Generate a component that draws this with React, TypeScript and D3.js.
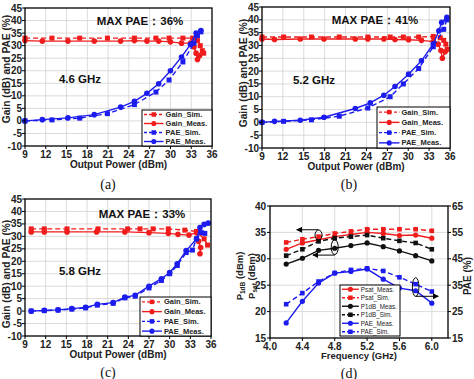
import React from 'react';
import * as d3 from 'd3';

type P = [number, number];

// ---------- shared ticks ----------
const powerTicks = [9, 12, 15, 18, 21, 24, 27, 30, 33, 36];
const gainPaeTicks = [-10, -5, 0, 5, 10, 15, 20, 25, 30, 35, 40, 45];

// ---------- panel (a) 4.6 GHz ----------
const gainSimA: P[] = [[9, 33], [12.9, 33], [16.9, 33], [20.9, 33], [24.8, 33], [27.9, 33], [29.8, 33], [31.8, 33], [33.2, 33], [33.9, 32], [34.3, 30], [34.6, 28], [34.8, 27]];
const gainMeasA: P[] = [[9, 32], [11.5, 31.8], [15.2, 31.8], [19, 31.8], [22.8, 31.8], [24.8, 32], [26.6, 31.8], [28.3, 31.8], [30, 31.5], [31.6, 31], [32.9, 31], [33.4, 29.5], [33.7, 27], [33.9, 24.5], [34.2, 26]];
const paeSimA: P[] = [[9, 0], [12.9, 0.4], [16.9, 1.1], [20.9, 2.9], [24.8, 6.5], [27.9, 11.5], [29.8, 16.3], [31.8, 23.5], [33.4, 31], [33.9, 34], [34.4, 35.5]];
const paeMeasA: P[] = [[9, 0], [11.5, 0.5], [15.2, 1.2], [19, 2.5], [22.8, 5.5], [24.8, 7.8], [26.6, 11], [28.3, 14.8], [30, 20], [31.6, 25.5], [32.9, 30.5], [33.7, 35], [34.4, 36]];

// ---------- panel (b) 5.2 GHz ----------
const gainSimB: P[] = [[9, 33.3], [12.1, 33.3], [16.1, 33.3], [20.1, 33.3], [24.2, 33.3], [27.4, 33.3], [29.3, 33.3], [31.5, 33.3], [33.6, 33.5], [34.6, 33], [35.1, 32], [35.4, 30.5], [35.6, 28.5]];
const gainMeasB: P[] = [[9, 32.5], [10.8, 32.3], [14.5, 32.5], [17.9, 32.5], [22.4, 32.5], [24.2, 32.5], [26.5, 32.5], [28.1, 32.3], [30.05, 32.2], [31.9, 32], [33.6, 31.5], [34.3, 30.5], [34.7, 28], [34.9, 25], [35.3, 27.5]];
const paeSimB: P[] = [[9, 0], [12.1, 0.4], [16.1, 1], [20.1, 2.4], [24.2, 5.6], [27.4, 10], [29.3, 15], [31.5, 21], [33.6, 29.5], [35.1, 36.3], [35.55, 40]];
const paeMeasB: P[] = [[9, 0], [10.8, 0.4], [14.5, 0.8], [17.9, 2], [22.4, 5.4], [24.55, 7.6], [26.5, 10.6], [28.1, 14], [30.05, 18.8], [31.9, 24], [33.6, 30.6], [34.4, 35.7], [34.8, 39], [35.55, 41]];

// ---------- panel (c) 5.8 GHz ----------
const gainSimC: P[] = [[9.9, 33], [11.8, 33], [15.1, 33], [19.6, 33], [23.9, 33], [25.7, 33], [27.6, 33], [29.8, 33], [32.2, 32.5], [33.9, 32], [35.0, 29], [35.5, 26.5]];
const gainMeasC: P[] = [[9.9, 31.8], [11.8, 31.8], [15.1, 31.8], [19.4, 31.8], [23.5, 31.8], [27.0, 31.5], [29.8, 31.2], [31.2, 30.8], [32.8, 30.5], [33.9, 31.5], [34.2, 28], [34.5, 25.5], [34.4, 23]];
const paeSimC: P[] = [[9.9, 0], [11.8, 0.2], [13.8, 0.4], [15.8, 0.8], [17.8, 1.3], [19.5, 2.4], [21.8, 3.1], [23.5, 5.3], [25, 6], [27, 9.3], [28.8, 12.3], [30, 15], [31.1, 18.3], [32.4, 23.5], [33.3, 24.5], [33.9, 29], [34.6, 31.5], [35.1, 31.2]];
const paeMeasC: P[] = [[9.9, 0], [11.8, 0.3], [13.8, 0.5], [15.8, 1], [17.8, 1.5], [19.5, 2.7], [21.8, 3.4], [23.5, 5.6], [25, 6.3], [27, 10], [28.8, 13], [30, 15.5], [31.1, 19], [32.4, 24.3], [33.9, 29], [34.4, 33.5], [35.0, 34.8], [35.6, 35.3]];

// ---------- panel (d) vs frequency ----------
const freqs = [4.2, 4.4, 4.6, 4.8, 5.0, 5.2, 5.4, 5.6, 5.8, 6.0];
const psatMeas = [31.8, 33.0, 33.6, 34.2, 34.6, 35.0, 34.8, 34.4, 34.5, 33.9];
const psatSim = [33.1, 33.7, 34.2, 34.8, 35.2, 35.6, 35.6, 35.6, 35.6, 35.3];
const p1dbMeas = [29.0, 30.1, 31.6, 32.0, 32.5, 33.0, 32.3, 31.5, 30.6, 29.6];
const p1dbSim = [30.6, 31.8, 33.3, 33.9, 34.2, 34.5, 33.9, 33.4, 33.0, 31.8];
const paeMeasD = [20.7, 28.9, 35.8, 39.6, 40.2, 41.1, 37.3, 33.9, 32.9, 28.2];
const paeSimD = [27.8, 32.0, 36.4, 39.6, 40.8, 41.4, 40.4, 38.0, 35.4, 32.6];
const freqTicks = [4.0, 4.4, 4.8, 5.2, 5.6, 6.0];
const powerDTicks = [15, 20, 25, 30, 35, 40];
const paeDTicks = [15, 25, 35, 45, 55, 65];

const legendNames = ['Gain_Sim.', 'Gain_Meas.', 'PAE_Sim.', 'PAE_Meas.'];
const legendNamesD = ['Psat_Meas.', 'Psat_Sim.', 'P1dB_Meas.', 'P1dB_Sim.', 'PAE_Meas.', 'PAE_Sim.'];

const RED = '#f01c1c';
const BLUE = '#1c1cee';
const BLACK = '#111';
const GRID = '#d2d2d2';
const F = "'Liberation Sans', Arial, Helvetica, sans-serif";
const SERIF = "'Liberation Serif', 'Times New Roman', serif";

type Series = { name: string; data: P[]; color: string; dashed: boolean; shape: 'square' | 'circle'; right?: boolean };

function Marker({ cx, cy, shape, color, s = 5 }: { cx: number; cy: number; shape: string; color: string; s?: number }) {
  if (shape === 'square') return <rect x={cx - s / 2} y={cy - s / 2} width={s} height={s} fill={color} />;
  return <circle cx={cx} cy={cy} r={s / 2 + 0.3} fill={color} />;
}

function SeriesMarks({ s, x, y, ms }: { s: Series; x: (v: number) => number; y: (v: number) => number; ms: number }) {
  const line = d3.line<P>().x(d => x(d[0])).y(d => y(d[1]));
  return (
    <g>
      <path d={line(s.data) || ''} fill="none" stroke={s.color} strokeWidth={1.4} strokeDasharray={s.dashed ? '5,3' : undefined} />
      {s.data.map((d, i) => <Marker key={i} cx={x(d[0])} cy={y(d[1])} shape={s.shape} color={s.color} s={ms} />)}
    </g>
  );
}

function Legend({ box, series, fs, weight }: { box: { x0: number; x1: number; y0: number; y1: number }; series: Series[]; fs: number; weight: string | number }) {
  const n = series.length;
  const h = (box.y1 - box.y0) / n;
  const sw = Math.min(22, (box.x1 - box.x0) * 0.28);
  return (
    <g>
      <rect x={box.x0} y={box.y0} width={box.x1 - box.x0} height={box.y1 - box.y0} fill="#fff" stroke="#000" strokeWidth={1} />
      {series.map((s, i) => {
        const cy = box.y0 + h * (i + 0.5);
        const lx0 = box.x0 + 2;
        const lx1 = lx0 + sw;
        return (
          <g key={i}>
            <line x1={lx0} x2={lx1} y1={cy} y2={cy} stroke={s.color} strokeWidth={1.4} strokeDasharray={s.dashed ? '3,2' : undefined} />
            <Marker cx={(lx0 + lx1) / 2} cy={cy} shape={s.shape} color={s.color} s={4.5} />
            <text x={lx1 + 2} y={cy} dominantBaseline="central" fontSize={fs} fontWeight={weight} fontFamily={F} fill="#222">{s.name}</text>
          </g>
        );
      })}
    </g>
  );
}

type PanelProps = {
  box: { x0: number; x1: number; y0: number; y1: number };
  gainSim: P[]; gainMeas: P[]; paeSim: P[]; paeMeas: P[];
  maxText: string; freqText: string;
  maxPos: [number, number]; freqPos: [number, number];
  legendBox: { x0: number; x1: number; y0: number; y1: number };
  caption: string; captionPos: [number, number]; ylabelY: number;
};

function PowerPanel(p: PanelProps) {
  const { box } = p;
  const x = d3.scaleLinear().domain([9, 36]).range([box.x0, box.x1]);
  const y = d3.scaleLinear().domain([-10, 45]).range([box.y1, box.y0]);
  const series: Series[] = [
    { name: legendNames[0], data: p.gainSim, color: RED, dashed: true, shape: 'square' },
    { name: legendNames[1], data: p.gainMeas, color: RED, dashed: false, shape: 'circle' },
    { name: legendNames[2], data: p.paeSim, color: BLUE, dashed: true, shape: 'square' },
    { name: legendNames[3], data: p.paeMeas, color: BLUE, dashed: false, shape: 'circle' },
  ];
  return (
    <g>
      {powerTicks.slice(1, -1).map(t => <line key={'gx' + t} x1={x(t)} x2={x(t)} y1={box.y0} y2={box.y1} stroke={GRID} strokeWidth={0.8} />)}
      {gainPaeTicks.slice(1, -1).map(t => <line key={'gy' + t} x1={box.x0} x2={box.x1} y1={y(t)} y2={y(t)} stroke={GRID} strokeWidth={0.8} />)}
      {series.map((s, i) => <SeriesMarks key={i} s={s} x={x} y={y} ms={5} />)}
      <rect x={box.x0} y={box.y0} width={box.x1 - box.x0} height={box.y1 - box.y0} fill="none" stroke="#000" strokeWidth={1.3} />
      {powerTicks.map(t => (
        <g key={'tx' + t}>
          <line x1={x(t)} x2={x(t)} y1={box.y1} y2={box.y1 + 3} stroke="#000" strokeWidth={1} />
          <text x={x(t)} y={box.y1 + 11.5} textAnchor="middle" fontSize={10} fontWeight="bold" fontFamily={F} fill="#222">{t}</text>
        </g>
      ))}
      {gainPaeTicks.map(t => (
        <g key={'ty' + t}>
          <line x1={box.x0 - 3} x2={box.x0} y1={y(t)} y2={y(t)} stroke="#000" strokeWidth={1} />
          <text x={box.x0 - 3} y={y(t)} textAnchor="end" dominantBaseline="central" fontSize={10} fontWeight="bold" fontFamily={F} fill="#222">{t}</text>
        </g>
      ))}
      <text x={(box.x0 + box.x1) / 2} y={box.y1 + 21.5} textAnchor="middle" fontSize={10} fontWeight="bold" fontFamily={F} fill="#222">Output Power  (dBm)</text>
      <text transform={`translate(${box.x0 - 19},${p.ylabelY}) rotate(-90)`} textAnchor="middle" dominantBaseline="central" fontSize={10.2} fontWeight="bold" fontFamily={F} fill="#222">Gain (dB) and PAE (%)</text>
      <text x={p.maxPos[0]} y={p.maxPos[1]} textAnchor="middle" dominantBaseline="central" fontSize={11.5} fontWeight="bold" fontFamily={F} fill="#111">{p.maxText}</text>
      <text x={p.freqPos[0]} y={p.freqPos[1]} textAnchor="middle" dominantBaseline="central" fontSize={11.5} fontWeight="bold" fontFamily={F} fill="#111">{p.freqText}</text>
      <Legend box={p.legendBox} series={series} fs={7.5} weight="bold" />
      <text x={p.captionPos[0]} y={p.captionPos[1]} textAnchor="middle" dominantBaseline="central" fontSize={14} fontFamily={SERIF} fill="#111">{p.caption}</text>
    </g>
  );
}

function FreqPanel() {
  const box = { x0: 270, x1: 448, y0: 206, y1: 338 };
  const x = d3.scaleLinear().domain([4.0, 6.2]).range([box.x0, box.x1]);
  const yl = d3.scaleLinear().domain([15, 40]).range([box.y1, box.y0]);
  const yr = d3.scaleLinear().domain([15, 65]).range([box.y1, box.y0]);
  const zip = (v: number[]): P[] => freqs.map((f, i) => [f, v[i]]);
  const series: Series[] = [
    { name: legendNamesD[0], data: zip(psatMeas), color: RED, dashed: false, shape: 'circle' },
    { name: legendNamesD[1], data: zip(psatSim), color: RED, dashed: true, shape: 'square' },
    { name: legendNamesD[2], data: zip(p1dbMeas), color: BLACK, dashed: false, shape: 'circle' },
    { name: legendNamesD[3], data: zip(p1dbSim), color: BLACK, dashed: true, shape: 'square' },
    { name: legendNamesD[4], data: zip(paeMeasD), color: BLUE, dashed: false, shape: 'circle', right: true },
    { name: legendNamesD[5], data: zip(paeSimD), color: BLUE, dashed: true, shape: 'square', right: true },
  ];
  const yc = (box.y0 + box.y1) / 2 + 4;
  return (
    <g>
      <defs>
        <marker id="ah" viewBox="0 0 10 10" refX="9" refY="5" markerWidth="6" markerHeight="6" orient="auto-start-reverse">
          <path d="M0,0 L10,5 L0,10 z" fill="#000" />
        </marker>
      </defs>
      {freqTicks.slice(1).map(t => <line key={'gx' + t} x1={x(t)} x2={x(t)} y1={box.y0} y2={box.y1} stroke={GRID} strokeWidth={0.8} />)}
      {powerDTicks.slice(1, -1).map(t => <line key={'gy' + t} x1={box.x0} x2={box.x1} y1={yl(t)} y2={yl(t)} stroke={GRID} strokeWidth={0.8} />)}
      {series.map((s, i) => <SeriesMarks key={i} s={s} x={x} y={s.right ? yr : yl} ms={4.6} />)}
      <rect x={box.x0} y={box.y0} width={box.x1 - box.x0} height={box.y1 - box.y0} fill="none" stroke="#000" strokeWidth={1.3} />
      {freqTicks.map(t => (
        <g key={'tx' + t}>
          <line x1={x(t)} x2={x(t)} y1={box.y1} y2={box.y1 + 3} stroke="#000" strokeWidth={1} />
          <text x={x(t)} y={box.y1 + 11.5} textAnchor="middle" fontSize={10} fontWeight="bold" fontFamily={F} fill="#222">{t.toFixed(1)}</text>
        </g>
      ))}
      {powerDTicks.map(t => (
        <g key={'tl' + t}>
          <line x1={box.x0 - 3} x2={box.x0} y1={yl(t)} y2={yl(t)} stroke="#000" strokeWidth={1} />
          <text x={box.x0 - 4} y={yl(t)} textAnchor="end" dominantBaseline="central" fontSize={10} fontWeight="bold" fontFamily={F} fill="#222">{t}</text>
        </g>
      ))}
      {paeDTicks.map(t => (
        <g key={'tr' + t}>
          <line x1={box.x1} x2={box.x1 + 3} y1={yr(t)} y2={yr(t)} stroke="#000" strokeWidth={1} />
          <text x={box.x1 + 4} y={yr(t)} textAnchor="start" dominantBaseline="central" fontSize={10} fontWeight="bold" fontFamily={F} fill="#222">{t}</text>
        </g>
      ))}
      <text x={(box.x0 + box.x1) / 2} y={box.y1 + 21} textAnchor="middle" fontSize={9.5} fontWeight="bold" fontFamily={F} fill="#222">Frequency (GHz)</text>
      <text transform={`translate(239,${yc}) rotate(-90)`} textAnchor="middle" fontSize={9.5} fontWeight="bold" fontFamily={F} fill="#222" dy={3.5}>P<tspan fontSize={6.5} dy={2.5}>1dB</tspan><tspan dy={-2.5}> (dBm)</tspan></text>
      <text transform={`translate(251,${yc}) rotate(-90)`} textAnchor="middle" fontSize={9.5} fontWeight="bold" fontFamily={F} fill="#222" dy={3.5}>P<tspan fontSize={6.5} dy={2.5}>sat</tspan><tspan dy={-2.5}> (dBm)</tspan></text>
      <text transform={`translate(467,${yc}) rotate(-90)`} textAnchor="middle" dominantBaseline="central" fontSize={10} fontWeight="bold" fontFamily={F} fill="#222">PAE (%)</text>
      {/* annotations */}
      <ellipse cx={x(4.6)} cy={yl(34.5)} rx={3.5} ry={(yl(33.6) - yl(35.5)) / 2} fill="none" stroke="#000" strokeWidth={1} />
      <line x1={x(4.6)} x2={x(4.33)} y1={yl(35.5)} y2={yl(35.5)} stroke="#000" strokeWidth={1} markerEnd="url(#ah)" />
      <ellipse cx={x(4.8)} cy={yl(32.2)} rx={3.5} ry={(yl(30.8) - yl(33.6)) / 2} fill="none" stroke="#000" strokeWidth={1} />
      <line x1={x(4.8)} x2={x(4.53)} y1={yl(30.7)} y2={yl(30.7)} stroke="#000" strokeWidth={1} markerEnd="url(#ah)" />
      <ellipse cx={x(5.8)} cy={yr(34.3)} rx={3.3} ry={(yr(30.8) - yr(37.9)) / 2} fill="none" stroke="#000" strokeWidth={1} />
      <line x1={x(5.8)} x2={x(6.08)} y1={yr(30.8)} y2={yr(30.8)} stroke="#000" strokeWidth={1} markerEnd="url(#ah)" />
      <Legend box={{ x0: 340, x1: 400, y0: 285, y1: 336 }} series={series} fs={6.3} weight="normal" />
      <text x={349} y={373} textAnchor="middle" dominantBaseline="central" fontSize={14} fontFamily={SERIF} fill="#111">(d)</text>
    </g>
  );
}

export default function App() {
  return (
    <div style={{ position: 'absolute', left: 0, top: 0 }}>
      <svg width={474} height={379} style={{ display: 'block', background: '#fff' }}>
        <PowerPanel box={{ x0: 25, x1: 212, y0: 8, y1: 146 }} gainSim={gainSimA} gainMeas={gainMeasA} paeSim={paeSimA} paeMeas={paeMeasA}
          maxText="MAX PAE：36%" freqText="4.6 GHz" maxPos={[140, 21]} freqPos={[80, 79]}
          legendBox={{ x0: 142, x1: 212, y0: 110, y1: 146 }} caption="(a)" captionPos={[108, 184]} ylabelY={69} />
        <PowerPanel box={{ x0: 262, x1: 450, y0: 7, y1: 148 }} gainSim={gainSimB} gainMeas={gainMeasB} paeSim={paeSimB} paeMeas={paeMeasB}
          maxText="MAX PAE：41%" freqText="5.2 GHz" maxPos={[375, 20]} freqPos={[314, 80]}
          legendBox={{ x0: 377, x1: 450, y0: 107, y1: 148 }} caption="(b)" captionPos={[349, 184]} ylabelY={73} />
        <PowerPanel box={{ x0: 25, x1: 211, y0: 199, y1: 336 }} gainSim={gainSimC} gainMeas={gainMeasC} paeSim={paeSimC} paeMeas={paeMeasC}
          maxText="MAX PAE：33%" freqText="5.8 GHz" maxPos={[142, 214]} freqPos={[80, 271]}
          legendBox={{ x0: 140, x1: 211, y0: 297, y1: 336 }} caption="(c)" captionPos={[108, 372]} ylabelY={274} />
        <FreqPanel />
      </svg>
    </div>
  );
}
